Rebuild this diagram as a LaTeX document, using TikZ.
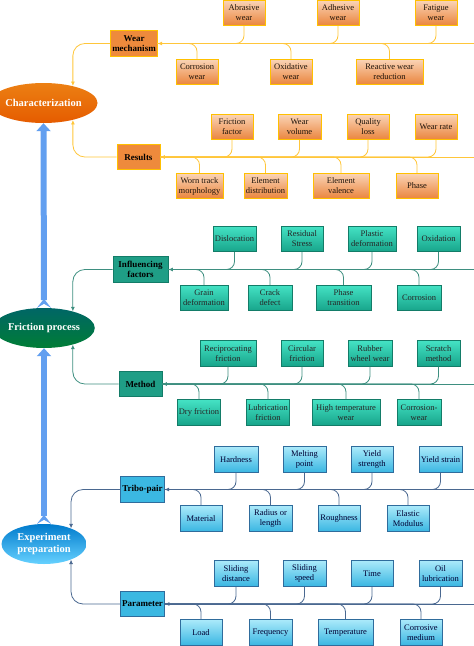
\documentclass[tikz,border=0pt]{standalone}
\usepackage{fontspec}
\setmainfont{Liberation Serif}
\usetikzlibrary{arrows.meta,shapes.geometric}
\definecolor{otop}{HTML}{FAD4B6}
\definecolor{obot}{HTML}{EA843C}
\definecolor{oedge}{HTML}{FFC000}
\definecolor{ohead}{HTML}{EE8A3C}
\definecolor{olinec}{HTML}{FFC63A}
\definecolor{ttop}{HTML}{44E2C4}
\definecolor{tbot}{HTML}{17A48A}
\definecolor{tedge}{HTML}{137C68}
\definecolor{thead}{HTML}{1F9E86}
\definecolor{tlinec}{HTML}{3E8F80}
\definecolor{btop}{HTML}{AAE9FA}
\definecolor{bbot}{HTML}{3AB7E2}
\definecolor{bedge}{HTML}{2F6C9C}
\definecolor{bhead}{HTML}{3BB8E2}
\definecolor{blinec}{HTML}{4A6890}
\definecolor{bigblue}{HTML}{629FF0}

\begin{document}
\begin{tikzpicture}[x=1pt,y=-1pt,
  leaf/.style={draw,rectangle,align=center,inner sep=1.5pt,minimum height=25.5pt,
    font=\fontsize{8.5}{10}\selectfont,line width=0.8pt},
  oleaf/.style={leaf,draw=oedge,top color=otop,bottom color=obot,text=black!85!brown},
  tleaf/.style={leaf,draw=tedge,top color=ttop,bottom color=tbot,text=black!85},
  bleaf/.style={leaf,draw=bedge,top color=btop,bottom color=bbot,text=black!80!blue},
  hdr/.style={draw,rectangle,align=center,inner sep=1.5pt,minimum height=25.5pt,
    font=\bfseries\fontsize{9}{10}\selectfont,line width=0.8pt},
  ohdr/.style={hdr,draw=oedge,fill=ohead},
  thdr/.style={hdr,draw=tedge,fill=thead},
  bhdr/.style={hdr,draw=bedge,fill=bhead},
  root/.style={ellipse,minimum width=85pt,minimum height=40pt,inner sep=0pt,text=white,
    align=center,font=\bfseries\fontsize{10.5}{12.5}\selectfont},
  link/.style={line width=0.8pt,rounded corners=8pt},
  into/.style={link,rounded corners=12pt,-{Latex[length=4.5pt,width=4pt]}},
  bigarrow/.style={draw=bigblue,line width=6pt,
    {Stealth[reversed,length=9pt,width=14pt,inset=4pt]}-{Triangle[length=8pt,width=14pt]}}]
\useasboundingbox (0,0) rectangle (474,646);

% roots
\node[root,top color=orange!70!brown,bottom color=orange!80!red!90!black] (charac) at (43.5,103) {Characterization};
\node[root,top color=teal!80!black,bottom color=teal!60!green!70!black] (fricproc) at (44,328) {Friction process};
\node[root,top color=cyan!60!blue!80!black,bottom color=cyan!70!blue!60!white] (expprep) at (44,544) {Experiment\\preparation};
\draw[bigarrow] (expprep.north) -- (fricproc.south);
\draw[bigarrow] (fricproc.north) -- (charac.south);

% characterization
\node[ohdr,minimum width=46pt] (wearmech) at (134,43.5) {Wear\\mechanism};
\node[ohdr,minimum width=43pt] (results) at (138.5,157) {Results};
\coordinate (wearend) at (474,43.5);
\coordinate (resend) at (474,157);
\foreach \n/\x/\w/\t in {abr/244/42/{Abrasive\\wear}, adh/338/42/{Adhesive\\wear}, fat/436/42/{Fatigue\\wear}}{
  \node[oleaf,minimum width=\w pt] (\n) at (\x,13) {\t};
  \draw[link,olinec] (\n.south) |- (wearmech.east);}
\foreach \n/\x/\w/\t in {corw/197/42/{Corrosion\\wear}, oxw/291/42/{Oxidative\\wear}, rwr/389.5/67/{Reactive wear\\reduction}}{
  \node[oleaf,minimum width=\w pt] (\n) at (\x,72) {\t};
  \draw[link,olinec] (\n.north) |- (wearmech.east);}
\foreach \n/\x/\w/\t in {ffa/232/42/{Friction\\factor}, wvo/299.5/43/{Wear\\volume}, qlo/368/42/{Quality\\loss}, wra/436/42/{Wear rate}}{
  \node[oleaf,minimum width=\w pt] (\n) at (\x,127) {\t};
  \draw[link,olinec] (\n.south) |- (results.east);}
\foreach \n/\x/\w/\t in {wtm/199.5/47/{Worn track\\morphology}, edi/265.5/43/{Element\\distribution}, eva/341/56/{Element\\valence}, pha/417/42/{Phase}}{
  \node[oleaf,minimum width=\w pt] (\n) at (\x,186) {\t};
  \draw[link,olinec] (\n.north) |- (results.east);}
\draw[link,olinec,-{Latex[length=4.5pt,width=4pt]}] (wearend) -- (wearmech.east);
\draw[link,olinec,-{Latex[length=4.5pt,width=4pt]}] (resend) -- (results.east);
\draw[into,olinec] (wearmech.west) -| (charac.30);
\draw[into,olinec] (results.west) -| (charac.-30);

% friction process
\node[thdr,minimum width=55pt] (influence) at (140.5,269.5) {Influencing\\factors};
\node[thdr,minimum width=43pt] (method) at (140.5,384) {Method};
\coordinate (inflend) at (474,269.5);
\coordinate (methend) at (474,384);
\foreach \n/\x/\w/\t in {dis/234.5/43/{Dislocation}, rst/302/42/{Residual\\Stress}, pde/372/48/{Plastic\\deformation}, oxi/438.5/43/{Oxidation}}{
  \node[tleaf,minimum width=\w pt] (\n) at (\x,239) {\t};
  \draw[link,tlinec] (\n.south) |- (influence.east);}
\foreach \n/\x/\w/\t in {gde/204/48/{Grain\\deformation}, cde/270/44/{Crack\\defect}, ptr/343.5/55/{Phase\\transition}, cor/419/44/{Corrosion}}{
  \node[tleaf,minimum width=\w pt] (\n) at (\x,298) {\t};
  \draw[link,tlinec] (\n.north) |- (influence.east);}
\foreach \n/\x/\w/\t in {rfr/228/56/{Reciprocating\\friction}, cfr/302/42/{Circular\\friction}, rww/370/44/{Rubber\\wheel wear}, sme/438.5/43/{Scratch\\method}}{
  \node[tleaf,minimum width=\w pt] (\n) at (\x,353.5) {\t};
  \draw[link,tlinec] (\n.south) |- (method.east);}
\foreach \n/\x/\w/\t in {dfr/199/42/{Dry friction}, lfr/268/42/{Lubrication\\friction}, htw/346/68/{High temperature\\wear}, cow/419/44/{Corrosion-\\wear}}{
  \node[tleaf,minimum width=\w pt] (\n) at (\x,412.5) {\t};
  \draw[link,tlinec] (\n.north) |- (method.east);}
\draw[link,tlinec,-{Latex[length=4.5pt,width=4pt]}] (inflend) -- (influence.east);
\draw[link,tlinec,-{Latex[length=4.5pt,width=4pt]}] (methend) -- (method.east);
\draw[into,tlinec] (influence.west) -| (fricproc.30);
\draw[into,tlinec] (method.west) -| (fricproc.-30);

% experiment preparation
\node[bhdr,minimum width=43pt] (tribo) at (142.5,489.5) {Tribo-pair};
\node[bhdr,minimum width=43pt] (param) at (142.5,604) {Parameter};
\coordinate (triboend) at (474,489.5);
\coordinate (paramend) at (474,604);
\foreach \n/\x/\w/\t in {har/236/44/{Hardness}, mpo/304.5/43/{Melting\\point}, yst/372/42/{Yield\\strength}, ysn/440.5/43/{Yield strain}}{
  \node[bleaf,minimum width=\w pt] (\n) at (\x,459.5) {\t};
  \draw[link,blinec] (\n.south) |- (tribo.east);}
\foreach \n/\x/\w/\t in {mat/201/42/{Material}, rol/270.5/43/{Radius or\\length}, rou/339/42/{Roughness}, emo/408/42/{Elastic\\Modulus}}{
  \node[bleaf,minimum width=\w pt] (\n) at (\x,518.5) {\t};
  \draw[link,blinec] (\n.north) |- (tribo.east);}
\foreach \n/\x/\w/\t in {sdi/236/44/{Sliding\\distance}, ssp/304.5/43/{Sliding\\speed}, tim/372/42/{Time}, olu/440.5/43/{Oil\\lubrication}}{
  \node[bleaf,minimum width=\w pt] (\n) at (\x,573.5) {\t};
  \draw[link,blinec] (\n.south) |- (param.east);}
\foreach \n/\x/\w/\t in {loa/201/42/{Load}, fre/270.5/43/{Frequency}, tem/345.5/55/{Temperature}, cme/421/42/{Corrosive\\medium}}{
  \node[bleaf,minimum width=\w pt] (\n) at (\x,632.5) {\t};
  \draw[link,blinec] (\n.north) |- (param.east);}
\draw[link,blinec,-{Latex[length=4.5pt,width=4pt]}] (triboend) -- (tribo.east);
\draw[link,blinec,-{Latex[length=4.5pt,width=4pt]}] (paramend) -- (param.east);
\draw[into,blinec] (tribo.west) -| (expprep.30);
\draw[into,blinec] (param.west) -| (expprep.-30);
\end{tikzpicture}
\end{document}
